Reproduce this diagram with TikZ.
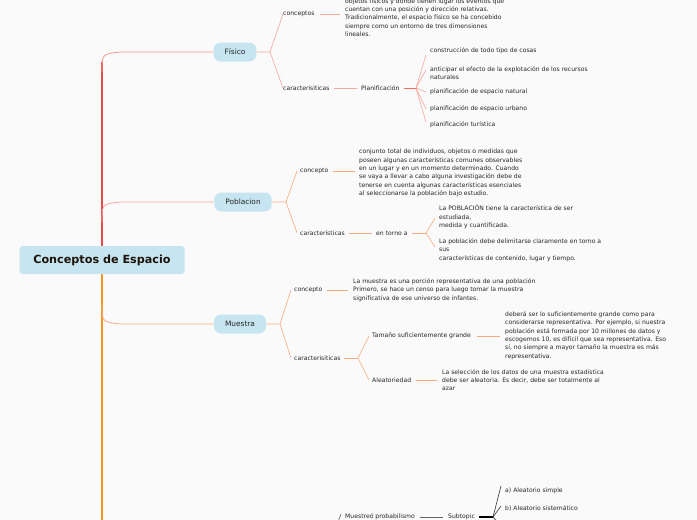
\documentclass[tikz,border=0pt]{standalone}
\usepackage{fontspec}
\setmainfont{DejaVu Sans}
\begin{document}
\begin{tikzpicture}[x=1pt,y=-1pt,
  txt/.style={anchor=west,inner sep=0pt,text=black!85,font=\fontsize{6.1}{8.4}\selectfont,align=left},
  topic/.style={fill=topicblue,rounded corners=7pt,minimum height=19pt,inner xsep=11pt,font=\fontsize{7.4}{8}\selectfont,text=black!85},
  l1/.style={draw=linered!60,line width=0.6pt},
  l2/.style={draw=lineorange,line width=0.6pt},
  l3/.style={draw=black!80,line width=0.6pt}]
\definecolor{topicblue}{HTML}{C6E5F0}
\definecolor{linered}{HTML}{F06A5A}
\definecolor{lineorange}{HTML}{F9A97E}
\definecolor{trunkred}{HTML}{E84A4A}
\definecolor{trunkor}{HTML}{F7941D}
\useasboundingbox[fill=black!2] (0,0) rectangle (697,520);
% trunk
\coordinate (ttop) at (102,62);
\coordinate (tmid) at (102,250);
\coordinate (tbot) at (102,520);
\draw[trunkred,line width=1.3pt] (ttop) -- (tmid);
\draw[trunkor,line width=1.3pt] (tmid) -- (tbot);
% root
\node[fill=topicblue,rounded corners=3pt,minimum width=165pt,minimum height=28pt,font=\bfseries\fontsize{11.2}{12}\selectfont,text=black!85!brown] (root) at (102,260) {Conceptos de Espacio};
% topics
\node[topic] (fis) at (235,52) {Físico};
\node[topic] (pob) at (243,202) {Poblacion};
\node[topic] (mue) at (240,324) {Muestra};
\draw[linered!70,line width=0.8pt] (102,72) .. controls (102,54) .. (120,52) -- (fis.west);
\draw[linered!60,line width=0.8pt] (102,222) .. controls (102,204) .. (120,202) -- (pob.west);
\draw[lineorange,line width=0.8pt] (102,304) .. controls (102,322) .. (120,324) -- (mue.west);
% Fisico
\coordinate (ff) at (270,52);
\node[txt] (conc) at (283,14) {conceptos};
\node[txt] (cara) at (283,88) {caracterisiticas};
\draw[l1] (fis.east) -- (ff) -- (conc.west); \draw[l1] (ff) -- (cara.west);
\node[txt,anchor=north west] (concT) at (345,-2) {objetos físicos y donde tienen lugar los eventos que\\cuentan con una posición y dirección relativas.\\Tradicionalmente, el espacio físico se ha concebido\\siempre como un entorno de tres dimensiones\\lineales.};
\draw[l1] ([xshift=5pt]conc.east) -- (340,14);
\node[txt] (plan) at (361,88) {Planificación};
\draw[l1] ([xshift=-4pt]plan.west) -- ([xshift=4pt]cara.east);
\coordinate (pf) at (416,88);
\draw[linered,line width=0.9pt] ([xshift=4pt]plan.east) -- (pf);
\node[txt] (p1) at (430,51) {construcción de todo tipo de cosas};
\node[txt] (p2) at (430,73) {anticipar el efecto de la explotación de los recursos\\naturales};
\node[txt] (p3) at (430,92) {planificación de espacio natural};
\node[txt] (p4) at (430,109) {planificación de espacio urbano};
\node[txt] (p5) at (430,125) {planificación turística};
\foreach \p/\y in {p1/55,p2/70,p3/92,p4/109,p5/122} \draw[l1] (pf) -- (426,\y);
% Poblacion
\coordinate (pbf) at (286,202);
\node[txt] (pc) at (300,171) {concepto};
\node[txt] (pca) at (300,233) {características};
\draw[l2] (pob.east) -- (pbf) -- ([xshift=-3pt]pc.west); \draw[l2] (pbf) -- ([xshift=-3pt]pca.west);
\node[txt] (pcT) at (359,173) {conjunto total de individuos, objetos o medidas que\\poseen algunas características comunes observables\\en un lugar y en un momento determinado. Cuando\\se vaya a llevar a cabo alguna investigación debe de\\tenerse en cuenta algunas características esenciales\\al seleccionarse la población bajo estudio.};
\draw[l2] ([xshift=5pt]pc.east) -- ([xshift=-4pt]pcT.west |- pc.east);
\node[txt] (ent) at (376,233) {en torno a};
\draw[l2] ([xshift=4pt]pca.east) -- ([xshift=-4pt]ent.west);
\coordinate (ef) at (426,233);
\draw[l2] ([xshift=4pt]ent.east) -- (ef);
\node[txt] (e1) at (439,217) {La POBLACIÓN tiene la característica de ser\\estudiada,\\medida y cuantificada.};
\node[txt] (e2) at (439,250) {La población debe delimitarse claramente en torno a\\sus\\características de contenido, lugar y tiempo.};
\draw[l2] (ef) -- (435,218); \draw[l2] (ef) -- (435,247);
% Muestra
\coordinate (mf) at (280,324);
\node[txt] (mc) at (294,290) {concepto};
\node[txt] (mca) at (294,358) {caracterisiticas};
\draw[l2] (mue.east) -- (mf) -- ([xshift=-3pt]mc.west); \draw[l2] (mf) -- ([xshift=-3pt]mca.west);
\node[txt] (mcT) at (353,290) {La muestra es una porción representativa de una población\\Primero, se hace un censo para luego tomar la muestra\\significativa de ese universo de infantes.};
\draw[l2] ([xshift=5pt]mc.east) -- ([xshift=-5pt]mcT.west |- mc.east);
\coordinate (mcf) at (358,358);
\draw[l2] ([xshift=3pt]mca.east) -- (mcf);
\node[txt] (tam) at (372,336) {Tamaño suficientemente grande};
\node[txt] (ale) at (372,380) {Aleatoriedad};
\draw[l2] (mcf) -- ([xshift=-3pt]tam.west); \draw[l2] (mcf) -- ([xshift=-3pt]ale.west);
\node[txt] (tamT) at (505,335.5) {deberá ser lo suficientemente grande como para\\considerarse representativa. Por ejemplo, si nuestra\\población está formada por 10 millones de datos y\\escogemos 10, es difícil que sea representativa. Eso\\sí, no siempre a mayor tamaño la muestra es más\\representativa.};
\draw[l2] ([xshift=6pt]tam.east) -- ([xshift=-5pt]tamT.west |- tam.east);
\node[txt] (aleT) at (442,380) {La selección de los datos de una muestra estadística\\debe ser aleatoria. Es decir, debe ser totalmente al\\azar};
\draw[l2] ([xshift=5pt]ale.east) -- ([xshift=-5pt]aleT.west |- ale.east);
% bottom
\node[txt] (mp) at (345,517) {Muestreó probabilismo};
\coordinate (mpa) at (338,522);
\draw[l3,black!60] (mpa) -- (341,514);
\node[txt] (sub) at (448,517) {Subtopic};
\draw[l3,black!60] ([xshift=5pt]mp.east) -- ([xshift=-5pt]sub.west);
\coordinate (sf) at (493,517);
\draw[black,line width=1.1pt] ([xshift=4pt]sub.east) -- (sf);
\node[txt] (a1) at (505,491) {a) Aleatorio simple};
\node[txt] (a2) at (505,508) {b) Aleatorio sistemático};
\draw[l3] (sf) -- (501,486); \draw[l3] (sf) -- (501,506); \draw[l3] (sf) -- (501,526);
\end{tikzpicture}
\end{document}
